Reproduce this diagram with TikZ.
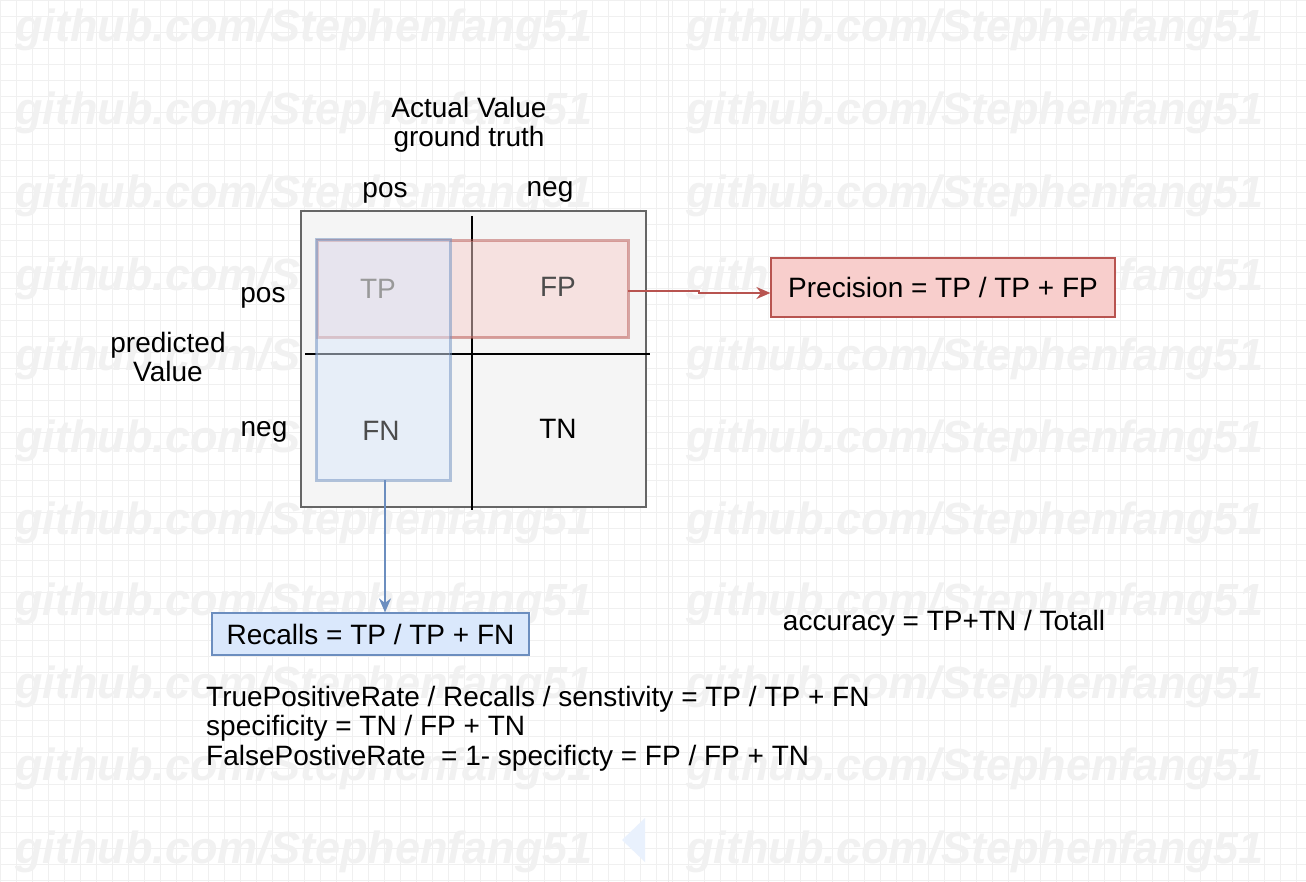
\documentclass[tikz,border=0pt]{standalone}
\usepackage{fontspec}
\setmainfont{Liberation Sans}
\usetikzlibrary{arrows.meta}
\definecolor{redfill}{HTML}{F8CECC}
\definecolor{redline}{HTML}{B85450}
\definecolor{bluefill}{HTML}{DAE8FC}
\definecolor{blueline}{HTML}{6C8EBF}
\definecolor{wm}{HTML}{F1F1F1}
\definecolor{gridc}{HTML}{F0F0F0}
\tikzset{
  lbl/.style={font=\fontsize{28}{29.5}\selectfont, align=center, inner sep=0},
  cell/.style={lbl, text=black!70},
  formula/.style={draw, line width=1.2pt, minimum height=42pt, font=\fontsize{28}{30}\selectfont},
  wmark/.style={font=\fontsize{45}{48}\selectfont\bfseries\itshape, text=wm, anchor=west, inner sep=0},
}
\begin{document}
\begin{tikzpicture}[x=1pt,y=-1pt]
\useasboundingbox (0,0) rectangle (1306,882);
\fill[white] (0,0) rectangle (1306,882);
\draw[gridc, step=16pt, line width=0.6pt] (0,0) grid (1306,882);
\draw[black!8, line width=1pt] (668,0) -- (668,882);
\foreach \y in {30,113,196,279,359,441,523,604,687,769,852}{
  \node[wmark] at (15,\y) {github.com/Stephenfang51};
  \node[wmark] at (686,\y) {github.com/Stephenfang51};
}
\fill[bluefill!60] (645,818) -- (645,862) -- (622,840) -- cycle;
% matrix
\draw[fill=black!4, draw=black!60, line width=2.5pt] (301,211) rectangle (646,507);
\draw[line width=1.5pt] (472,216) -- (472,510);
\draw[line width=1.5pt] (305,354) -- (650,354);
\draw[fill=redfill, fill opacity=0.5, draw=redline, draw opacity=0.5, line width=3pt] (317,241) rectangle (628,338);
\draw[fill=bluefill, fill opacity=0.5, draw=blueline, draw opacity=0.5, line width=3pt] (316,240) rectangle (450,480);
\coordinate (fpr) at (628,291);
\coordinate (fnb) at (385,480);
\node[cell, text=black!40] (tp) at (378,289) {TP};
\node[cell] (fp) at (558,287) {FP};
\node[cell] (fn) at (381,431) {FN};
\node[lbl] (tn) at (558,429) {TN};
\node[lbl] (act) at (469,125) {Actual Value\\ground truth};
\node[lbl] (cpos) at (385,193) {pos};
\node[lbl] (cneg) at (550,192) {neg};
\node[lbl] (rpos) at (263,298) {pos};
\node[lbl] (rneg) at (264,432) {neg};
\node[lbl] (pred) at (168,357) {predicted\\Value};
\node[formula, fill=redfill, draw=redline, minimum width=344pt, minimum height=59pt] (prec) at (943,287.5) {Precision = TP / TP + FP};
\node[formula, fill=bluefill, draw=blueline, minimum width=317pt] (rec) at (370.5,634) {Recalls = TP / TP + FN};
\draw[redline, line width=1.8pt, -{Stealth[length=14pt,width=12pt]}] (fpr) -- (699,291) -- (699,293) -- (prec.west |- 0,293);
\draw[blueline, line width=1.8pt, -{Stealth[length=14pt,width=12pt]}] (fnb) -- (rec.north -| fnb);
\node[lbl] (acc) at (944,623) {accuracy = TP+TN / Totall};
\node[lbl, align=left, anchor=north west, font=\fontsize{28}{29.5}\selectfont] (defs) at (206,686) {TruePositiveRate / Recalls / senstivity = TP / TP + FN\\specificity = TN / FP + TN\\FalsePostiveRate \ = 1- specificty = FP / FP + TN};
\end{tikzpicture}
\end{document}
